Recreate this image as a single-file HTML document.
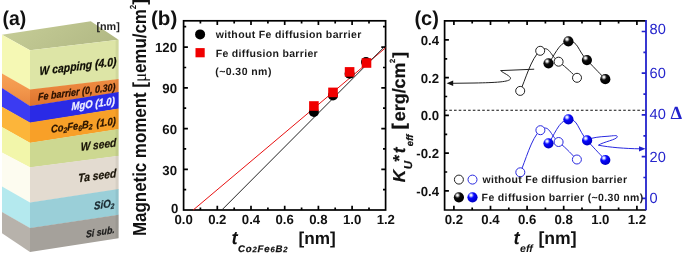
<!DOCTYPE html>
<html><head><meta charset="utf-8"><title>Figure</title>
<style>
html,body{margin:0;padding:0;background:#fff;}
body{width:685px;height:254px;overflow:hidden;}
svg{display:block;}
text{font-family:"Liberation Sans",Arial,sans-serif;text-rendering:geometricPrecision;}
.b{font-weight:bold;}
.bi{font-weight:bold;font-style:italic;}
.tk{font-weight:bold;font-size:13.2px;fill:#111;}
.lg{font-weight:bold;font-size:10.5px;fill:#1a1a1a;}
.bl{font-size:14.6px;fill:#2525cc;}
</style></head><body>
<svg width="685" height="254" viewBox="0 0 685 254">
<defs>
<radialGradient id="gk" cx="0.36" cy="0.30" r="0.62"><stop offset="0" stop-color="#ffffff"/><stop offset="0.14" stop-color="#e6e6e6"/><stop offset="0.3" stop-color="#6a6a6a"/><stop offset="0.46" stop-color="#0c0c0c"/><stop offset="1" stop-color="#000000"/></radialGradient>
<radialGradient id="gb" cx="0.36" cy="0.30" r="0.62"><stop offset="0" stop-color="#ffffff"/><stop offset="0.14" stop-color="#dde0ff"/><stop offset="0.3" stop-color="#6870ff"/><stop offset="0.46" stop-color="#0808ff"/><stop offset="1" stop-color="#0000cc"/></radialGradient>
<linearGradient id="gtop" x1="0" y1="0" x2="1" y2="0.3"><stop offset="0" stop-color="#c7ce98"/><stop offset="1" stop-color="#b3ba86"/></linearGradient>
<linearGradient id="gfef" x1="0" y1="0" x2="0" y2="1"><stop offset="0" stop-color="#ee8c42"/><stop offset="0.5" stop-color="#e78038"/><stop offset="1" stop-color="#dc722c"/></linearGradient>
<linearGradient id="gfel" x1="0" y1="0" x2="0" y2="1"><stop offset="0" stop-color="#f7a257"/><stop offset="0.5" stop-color="#f2974c"/><stop offset="1" stop-color="#e88540"/></linearGradient>
</defs>
<rect width="685" height="254" fill="#ffffff"/>

<g id="stack">
<polygon points="2.0,34.7 90.8,21.2 118.6,39.8 30.0,50.2" fill="url(#gtop)"/>
<polygon points="2.0,34.7 30.0,50.2 30.0,89.89999999999999 2.0,73.7" fill="#f5f8b4"/>
<polygon points="30.0,50.2 118.6,39.8 118.6,79.2 30.0,89.89999999999999" fill="#dde5a6"/>
<polygon points="2.0,73.4 30.0,89.6 30.0,106.3 2.0,88.3" fill="url(#gfel)"/>
<polygon points="30.0,89.6 118.6,78.9 118.6,92.39999999999999 30.0,106.3" fill="url(#gfef)"/>
<polygon points="2.0,88.0 30.0,106.0 30.0,122.89999999999999 2.0,107.1" fill="#3b3bf2"/>
<polygon points="30.0,106.0 118.6,92.1 118.6,108.7 30.0,122.89999999999999" fill="#2a2ae6"/>
<polygon points="2.0,106.8 30.0,122.6 30.0,143.10000000000002 2.0,127.3" fill="#fcb53a"/>
<polygon points="30.0,122.6 118.6,108.4 118.6,129.20000000000002 30.0,143.10000000000002" fill="#f8a028"/>
<polygon points="2.0,127.0 30.0,142.8 30.0,167.60000000000002 2.0,152.70000000000002" fill="#f2f6aa"/>
<polygon points="30.0,142.8 118.6,128.9 118.6,156.0 30.0,167.60000000000002" fill="#cdd891"/>
<polygon points="2.0,152.4 30.0,167.3 30.0,202.70000000000002 2.0,186.9" fill="#fdfcf0"/>
<polygon points="30.0,167.3 118.6,155.7 118.6,189.4 30.0,202.70000000000002" fill="#e3dbd0"/>
<polygon points="2.0,186.6 30.0,202.4 30.0,228.20000000000002 2.0,212.3" fill="#b4e9ee"/>
<polygon points="30.0,202.4 118.6,189.1 118.6,215.10000000000002 30.0,228.20000000000002" fill="#9acfd8"/>
<polygon points="2.0,212.0 30.0,227.9 30.0,252.10000000000002 2.0,233.20000000000002" fill="#b7b2ab"/>
<polygon points="30.0,227.9 118.6,214.8 118.6,238.3 30.0,252.10000000000002" fill="#a5a19b"/>
<polygon points="115.6,40.2 118.6,39.8 118.6,238.0 115.6,238.45" fill="#000" opacity="0.055"/>
<text class="bi" transform="translate(116.4,65.5) skewY(-7.2) scale(1,1.15)" text-anchor="end" font-size="10.4" fill="#0c0a02" stroke="#0c0a02" stroke-width="0.22" >W capping (4.0)</text>
<text class="bi" transform="translate(115.6,90.4) skewY(-7.4) scale(1,1.15)" text-anchor="end" font-size="9" fill="#2a1000" stroke="#2a1000" stroke-width="0.22" >Fe barrier (0, 0.30)</text>
<text class="bi" transform="translate(114.8,104.6) skewY(-7.4) scale(1,1.15)" text-anchor="end" font-size="9.5" fill="#eeeeff" stroke="#eeeeff" stroke-width="0.22" >MgO (1.0)</text>
<text class="bi" transform="translate(115.8,124.7) skewY(-7) scale(1,1.15)" text-anchor="end" font-size="9.4" fill="#2a1400" stroke="#2a1400" stroke-width="0.22" >Co<tspan font-size="6.8" dy="1.6">2</tspan><tspan dy="-1.6">Fe</tspan><tspan font-size="6.8" dy="1.6">6</tspan><tspan dy="-1.6">B</tspan><tspan font-size="6.8" dy="1.6">2</tspan><tspan dy="-1.6" dx="1.4"> (1.0)</tspan></text>
<text class="bi" transform="translate(116.3,146.4) skewY(-7.5) scale(1,1.15)" text-anchor="end" font-size="10.2" fill="#1a1408" stroke="#1a1408" stroke-width="0.22" >W seed</text>
<text class="bi" transform="translate(116.3,177.1) skewY(-7.9) scale(1,1.15)" text-anchor="end" font-size="10.3" fill="#1a1408" stroke="#1a1408" stroke-width="0.22" >Ta seed</text>
<text class="bi" transform="translate(114.4,206.6) skewY(-8.9) scale(1,1.15)" text-anchor="end" font-size="9.7" fill="#1a2a30" stroke="#1a2a30" stroke-width="0.22" >SiO<tspan font-size="6.5" dy="1.5">2</tspan></text>
<text class="bi" transform="translate(114.8,232.9) skewY(-9.4) scale(1,1.15)" text-anchor="end" font-size="8.8" fill="#1c1c1c" stroke="#1c1c1c" stroke-width="0.22" >Si sub.</text>
<text class="b" x="96.4" y="30.3" font-size="10.8" fill="#222">[nm]</text>
<text class="b" transform="translate(2.6,25.3) scale(0.97,1.0)" font-size="20" fill="#111">(a)</text>
</g>
<g id="pb">
<rect x="183.6" y="20.8" width="202.00000000000003" height="189.2" fill="none" stroke="#000" stroke-width="1.7"/>
<path d="M200.4,210.0v-2.6 M200.4,20.8v2.6 M217.3,210.0v-4.3 M217.3,20.8v4.3 M234.2,210.0v-2.6 M234.2,20.8v2.6 M251.0,210.0v-4.3 M251.0,20.8v4.3 M267.9,210.0v-2.6 M267.9,20.8v2.6 M284.7,210.0v-4.3 M284.7,20.8v4.3 M301.6,210.0v-2.6 M301.6,20.8v2.6 M318.4,210.0v-4.3 M318.4,20.8v4.3 M335.2,210.0v-2.6 M335.2,20.8v2.6 M352.1,210.0v-4.3 M352.1,20.8v4.3 M369.0,210.0v-2.6 M369.0,20.8v2.6 M183.6,189.6h2.6 M385.6,189.6h-2.6 M183.6,169.3h4.3 M385.6,169.3h-4.3 M183.6,148.9h2.6 M385.6,148.9h-2.6 M183.6,128.6h4.3 M385.6,128.6h-4.3 M183.6,108.2h2.6 M385.6,108.2h-2.6 M183.6,87.8h4.3 M385.6,87.8h-4.3 M183.6,67.5h2.6 M385.6,67.5h-2.6 M183.6,47.1h4.3 M385.6,47.1h-4.3 M183.6,26.7h2.6 M385.6,26.7h-2.6" stroke="#000" stroke-width="1.7" fill="none"/>
<text class="tk" x="183.6" y="224.0" text-anchor="middle">0.0</text>
<text class="tk" x="217.3" y="224.0" text-anchor="middle">0.2</text>
<text class="tk" x="251.0" y="224.0" text-anchor="middle">0.4</text>
<text class="tk" x="284.7" y="224.0" text-anchor="middle">0.6</text>
<text class="tk" x="318.4" y="224.0" text-anchor="middle">0.8</text>
<text class="tk" x="352.1" y="224.0" text-anchor="middle">1.0</text>
<text class="tk" x="385.8" y="224.0" text-anchor="middle">1.2</text>
<text class="tk" x="178.4" y="213.4" text-anchor="end">0</text>
<text class="tk" x="177.0" y="174.6" text-anchor="end">30</text>
<text class="tk" x="177.0" y="133.9" text-anchor="end">60</text>
<text class="tk" x="177.0" y="93.1" text-anchor="end">90</text>
<text class="tk" x="177.0" y="52.4" text-anchor="end">120</text>
<path d="M193.2,210L385.6,47.8" stroke="#e81010" stroke-width="1" fill="none"/>
<path d="M221.8,210L385.6,45.6" stroke="#222" stroke-width="1" fill="none"/>
<circle cx="313.9" cy="112" r="5" fill="#000"/>
<circle cx="333" cy="95.4" r="5" fill="#000"/>
<circle cx="349.6" cy="73.7" r="5" fill="#000"/>
<circle cx="366" cy="62" r="5" fill="#000"/>
<rect x="309.09999999999997" y="101.2" width="9.6" height="9.6" fill="#f00000"/>
<rect x="328.2" y="87.60000000000001" width="9.6" height="9.6" fill="#f00000"/>
<rect x="344.8" y="67.10000000000001" width="9.6" height="9.6" fill="#f00000"/>
<rect x="361.7" y="58.2" width="9.6" height="9.6" fill="#f00000"/>
<circle cx="200.1" cy="34.4" r="5" fill="#000"/>
<rect x="195.5" y="48.1" width="9.2" height="9.2" fill="#f00000"/>
<text class="lg" x="215.7" y="38.4" textLength="145.6" lengthAdjust="spacing">without Fe diffusion barrier</text>
<text class="lg" x="215.7" y="56.5" textLength="102" lengthAdjust="spacing">Fe diffusion barrier</text>
<text class="lg" x="215.2" y="74.9" textLength="56.2" lengthAdjust="spacing">(~0.30 nm)</text>
<text class="b" transform="translate(151.0,25.3) scale(1.03,1.0)" font-size="20" fill="#111">(b)</text>
<text id="ybt" class="b" transform="translate(145.7,236.0) rotate(-90) scale(1,1.11)" font-size="17" fill="#111" letter-spacing="-0.06">Magnetic moment [<tspan font-family="'Liberation Serif',serif" font-weight="normal" font-size="17">μ</tspan>emu/cm<tspan font-size="8" dy="-8.5">2</tspan><tspan dy="8.5">]</tspan></text>
<text class="bi" x="231.6" y="244.4" font-size="18.5" fill="#111">t</text>
<text class="bi" x="238" y="251.5" font-size="9.6" fill="#111" stroke="#111" stroke-width="0.25" textLength="49.6" lengthAdjust="spacing">Co<tspan font-size="7.6">2</tspan>Fe<tspan font-size="7.6">6</tspan>B<tspan font-size="7.6">2</tspan></text>
<text class="b" x="298.6" y="244.2" font-size="17.2" fill="#111">[nm]</text>
</g>
<g id="pc">
<path d="M646.0,20.8H444.6V210.0H646.0" fill="none" stroke="#000" stroke-width="1.7"/>
<path d="M646.0,19.900000000000002V210.3" fill="none" stroke="#2222cc" stroke-width="1.8"/>
<path d="M453.9,210.0v-4.3 M453.9,20.8v4.3 M472.2,210.0v-2.6 M472.2,20.8v2.6 M490.5,210.0v-4.3 M490.5,20.8v4.3 M508.8,210.0v-2.6 M508.8,20.8v2.6 M527.1,210.0v-4.3 M527.1,20.8v4.3 M545.4,210.0v-2.6 M545.4,20.8v2.6 M563.7,210.0v-4.3 M563.7,20.8v4.3 M582.0,210.0v-2.6 M582.0,20.8v2.6 M600.3,210.0v-4.3 M600.3,20.8v4.3 M618.6,210.0v-2.6 M618.6,20.8v2.6 M636.9,210.0v-4.3 M636.9,20.8v4.3 M444.6,190.9h4.3 M444.6,172.0h2.6 M444.6,153.2h4.3 M444.6,134.3h2.6 M444.6,115.4h4.3 M444.6,96.5h2.6 M444.6,77.7h4.3 M444.6,58.8h2.6 M444.6,39.9h4.3" stroke="#000" stroke-width="1.7" fill="none"/>
<path d="M646.0,198.3h-4.3 M646.0,177.5h-2.6 M646.0,156.6h-4.3 M646.0,135.8h-2.6 M646.0,114.9h-4.3 M646.0,94.1h-2.6 M646.0,73.2h-4.3 M646.0,52.4h-2.6 M646.0,31.5h-4.3" stroke="#2222cc" stroke-width="1.7" fill="none"/>
<text class="tk" x="453.9" y="224.0" text-anchor="middle">0.2</text>
<text class="tk" x="490.5" y="224.0" text-anchor="middle">0.4</text>
<text class="tk" x="527.1" y="224.0" text-anchor="middle">0.6</text>
<text class="tk" x="563.7" y="224.0" text-anchor="middle">0.8</text>
<text class="tk" x="600.3" y="224.0" text-anchor="middle">1.0</text>
<text class="tk" x="636.9" y="224.0" text-anchor="middle">1.2</text>
<text class="tk" x="439" y="195.8" text-anchor="end">-0.4</text>
<text class="tk" x="439" y="158.1" text-anchor="end">-0.2</text>
<text class="tk" x="439" y="120.3" text-anchor="end">0.0</text>
<text class="tk" x="439" y="82.6" text-anchor="end">0.2</text>
<text class="tk" x="439" y="44.8" text-anchor="end">0.4</text>
<text class="bl" x="649.6" y="203.2">0</text>
<text class="bl" x="649.6" y="161.5">20</text>
<text class="bl" x="649.6" y="118.6">40</text>
<text class="bl" x="649.6" y="78.1">60</text>
<text class="bl" x="649.6" y="34.4">80</text>
<path d="M444.6,110.2H646.0" stroke="#111" stroke-width="1.1" stroke-dasharray="2.6,2.1" fill="none"/>
<path d="M520.2,90.9C524.9,81.5 531.2,57.6 540.2,50.8C549.2,44.0 550.0,55.4 558.6,61.7C567.2,68.0 572.7,74.0 577.0,77.8" stroke="#222" stroke-width="1" fill="none"/>
<path d="M548.5,63.3C553.5,57.8 558.8,42.1 568.4,41.3C578.0,40.5 577.7,50.6 586.9,60.1C596.1,69.6 600.7,74.4 605.3,79.2" stroke="#222" stroke-width="1" fill="none"/>
<path d="M520.3,172.3C525.0,162.5 531.5,137.3 540.4,130.2C549.3,123.1 550.1,135.2 558.6,142.0C567.1,148.8 572.6,155.4 576.9,159.5" stroke="#2a2ae0" stroke-width="1" fill="none"/>
<path d="M548.5,143.3C553.5,137.3 558.8,120.0 568.4,119.3C578.0,118.6 577.9,130.2 587.1,140.4C596.3,150.6 600.8,155.1 605.3,160.0" stroke="#2a2ae0" stroke-width="1" fill="none"/>
<path d="M534.2,69.2 L500.6,70.6 C503,73 511,76 510.5,78.6 C510,82 495,82.6 475,83 L452,83.3" stroke="#222" stroke-width="1" fill="none"/>
<polygon points="446.6,83.3 453.2,80.6 453.2,86" fill="#111"/>
<path d="M587,139.8 C592,137.6 600,136.7 606,136.4 C612,136.1 617.6,134.6 617.3,136.8 C617,139.6 603,142 598.4,145.2 C610,147.4 625,148.6 640,148.8" stroke="#2a2ae0" stroke-width="1" fill="none"/>
<polygon points="645.6,148.8 639,146.2 639,151.4" fill="#2222cc"/>
<circle cx="520.2" cy="90.9" r="4.5" fill="#fff" stroke="#222" stroke-width="1"/>
<circle cx="540.2" cy="50.8" r="4.5" fill="#fff" stroke="#222" stroke-width="1"/>
<circle cx="558.6" cy="61.7" r="4.5" fill="#fff" stroke="#222" stroke-width="1"/>
<circle cx="577" cy="77.8" r="4.5" fill="#fff" stroke="#222" stroke-width="1"/>
<circle cx="520.3" cy="172.3" r="4.5" fill="#fff" stroke="#2a2ae0" stroke-width="1"/>
<circle cx="540.4" cy="130.2" r="4.5" fill="#fff" stroke="#2a2ae0" stroke-width="1"/>
<circle cx="558.6" cy="142" r="4.5" fill="#fff" stroke="#2a2ae0" stroke-width="1"/>
<circle cx="576.9" cy="159.5" r="4.5" fill="#fff" stroke="#2a2ae0" stroke-width="1"/>
<circle cx="548.5" cy="63.3" r="5.1" fill="url(#gk)"/>
<circle cx="568.4" cy="41.3" r="5.1" fill="url(#gk)"/>
<circle cx="586.9" cy="60.1" r="5.1" fill="url(#gk)"/>
<circle cx="605.3" cy="79.2" r="5.1" fill="url(#gk)"/>
<circle cx="548.5" cy="143.3" r="5.1" fill="url(#gb)"/>
<circle cx="568.4" cy="119.3" r="5.1" fill="url(#gb)"/>
<circle cx="587.1" cy="140.4" r="5.1" fill="url(#gb)"/>
<circle cx="605.3" cy="160" r="5.1" fill="url(#gb)"/>
<circle cx="458.9" cy="179.6" r="4.5" fill="#fff" stroke="#222" stroke-width="1"/>
<circle cx="472.5" cy="179.6" r="4.5" fill="#fff" stroke="#2a2ae0" stroke-width="1"/>
<circle cx="458.9" cy="197.3" r="5.1" fill="url(#gk)"/>
<circle cx="472.5" cy="197.3" r="5.1" fill="url(#gb)"/>
<text class="lg" x="482.4" y="183.4" textLength="144.6" lengthAdjust="spacing">without Fe diffusion barrier</text>
<text class="lg" x="481.6" y="201" textLength="161.6" lengthAdjust="spacing">Fe diffusion barrier (~0.30 nm)</text>
<text class="b" transform="translate(414.4,25.3) scale(1.0,1.0)" font-size="20" fill="#111">(c)</text>
<text class="bi" x="513.4" y="243.8" font-size="18.5" fill="#111">t</text>
<text class="bi" x="520" y="251.5" font-size="10.6" fill="#111">eff</text>
<text class="b" x="538.4" y="244.2" font-size="17.6" fill="#111">[nm]</text>
<text id="yct" class="bi" transform="translate(404.8,182.2) rotate(-90)" font-size="17.3" fill="#111" stroke="#111" stroke-width="0.2">K<tspan font-size="11.5" x="13.0" dy="7.6">U</tspan><tspan x="20.0" dy="-7.6">*</tspan><tspan x="29.0">t</tspan><tspan font-size="9.6" x="36.0" dy="7.8">eff</tspan><tspan dy="-7.8" x="53.0" font-style="normal" font-size="18.2" stroke-width="0.4">[</tspan><tspan x="61.0" font-style="normal" font-size="17.9">erg/cm</tspan><tspan font-size="7.5" dy="-10" dx="-0.5" font-style="normal">2</tspan><tspan dy="10" dx="1.2" font-style="normal" font-size="17.5">]</tspan></text>
<text x="670.6" y="118.9" font-size="18.5" font-weight="bold" fill="#2222cc" style="font-family:'Liberation Serif','DejaVu Serif',serif">Δ</text>
</g>
</svg></body></html>
